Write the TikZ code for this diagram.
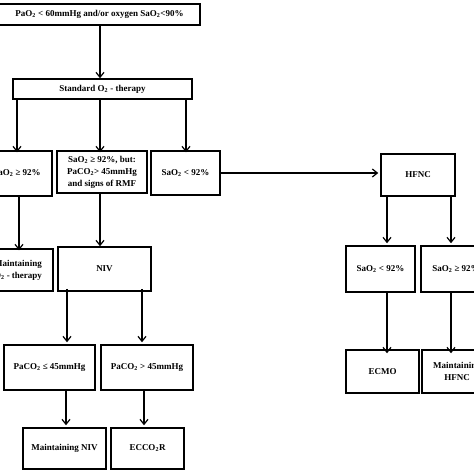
\documentclass[tikz,border=0pt]{standalone}
\usepackage{fontspec}
\setmainfont{Liberation Serif}
\usepackage{tikz}
\usetikzlibrary{arrows.meta,positioning}

\tikzset{
    stage/.style={draw,line width=1.5pt,inner sep=1pt,align=center,
        font=\fontsize{9}{12}\selectfont\bfseries},
    flow/.style={-{Straight Barb[length=5pt,width=8pt,line width=1.2pt]},line width=1.4pt,shorten >=2pt}
}

\begin{document}
\begin{tikzpicture}[x=1pt,y=-1pt]
            \useasboundingbox (0,0) rectangle (474,474);
            \clip (0,0) rectangle (474,474);

            \node[stage,minimum width=201,minimum height=21] (hypox) at (99.5,14.5) {PaO\textsubscript{2} < 60mmHg and/or oxygen SaO\textsubscript{2}<90\%};
            \node[stage,minimum width=179,minimum height=20] (std_o2) at (102.5,89) {Standard O\textsubscript{2} - therapy};

            \node[stage,minimum width=70,minimum height=45] (sa_ok) at (17,173.5) {SaO\textsubscript{2} ≥ 92\%};
            \node[stage,minimum width=90,minimum height=42] (sa_rmf) at (102,172) {SaO\textsubscript{2} ≥ 92\%, but:\\PaCO\textsubscript{2}> 45mmHg\\and signs of RMF};
            \node[stage,minimum width=69,minimum height=44] (sa_low) at (185.5,173) {SaO\textsubscript{2} < 92\%};

            \node[stage,minimum width=70,minimum height=42] (keep_o2) at (18,270) {Maintaining\\O\textsubscript{2} - therapy};
            \node[stage,minimum width=93,minimum height=44] (niv) at (104.5,269) {NIV};

            \node[stage,minimum width=91,minimum height=45] (pa_low) at (49.5,367.5) {PaCO\textsubscript{2} ≤ 45mmHg};
            \node[stage,minimum width=92,minimum height=45] (pa_high) at (147,367.5) {PaCO\textsubscript{2} > 45mmHg};
            \node[stage,minimum width=83,minimum height=41] (keep_niv) at (64.5,448.5) {Maintaining NIV};
            \node[stage,minimum width=73,minimum height=41] (ecco2r) at (147.5,448.5) {ECCO\textsubscript{2}R};

            \node[stage,minimum width=74,minimum height=42] (hfnc) at (418,175) {HFNC};
            \node[stage,minimum width=69,minimum height=46] (hf_low) at (380.5,269) {SaO\textsubscript{2} < 92\%};
            \node[stage,minimum width=70,minimum height=46] (hf_ok) at (456,269) {SaO\textsubscript{2} ≥ 92\%};
            \node[stage,minimum width=73,minimum height=43] (ecmo) at (382.5,371.5) {ECMO};
            \node[stage,minimum width=70,minimum height=43] (keep_hf) at (457,371.5) {Maintaining\\HFNC};

            \path[flow] (hypox.south -| 100,0) edge ([yshift=-2]std_o2.north -| 100,0);
            \path[flow] (std_o2.south -| sa_ok) edge ([yshift=-4]sa_ok.north);
            \path[flow] (std_o2.south -| 100,0) edge ([yshift=-4]sa_rmf.north -| 100,0);
            \path[flow] (std_o2.south -| 186,0) edge ([yshift=-4]sa_low.north -| 186,0);
            \path[flow] (sa_low.east) edge (hfnc.west |- sa_low.east);

            \path[flow] (sa_ok.south -| 19,0) edge ([yshift=-4]keep_o2.north -| 19,0);
            \path[flow] (sa_rmf.south -| 100,0) edge ([yshift=-2]niv.north -| 100,0);
            \path[flow] ([yshift=3]niv.south -| 67,0) edge (pa_low.north -| 67,0);
            \path[flow] ([yshift=3]niv.south -| 142,0) edge (pa_high.north -| 142,0);
            \path[flow] (pa_low.south -| 66,0) edge (keep_niv.north -| 66,0);
            \path[flow] (pa_high.south -| 144,0) edge (ecco2r.north -| 144,0);

            \path[flow] (hfnc.south -| 387,0) edge (hf_low.north -| 387,0);
            \path[flow] (hfnc.south -| 451,0) edge (hf_ok.north -| 451,0);
            \path[flow] (hf_low.south -| 387,0) edge ([yshift=-6]ecmo.north -| 387,0);
            \path[flow] (hf_ok.south -| 451,0) edge ([yshift=-6]keep_hf.north -| 451,0);
        \end{tikzpicture}
\end{document}
